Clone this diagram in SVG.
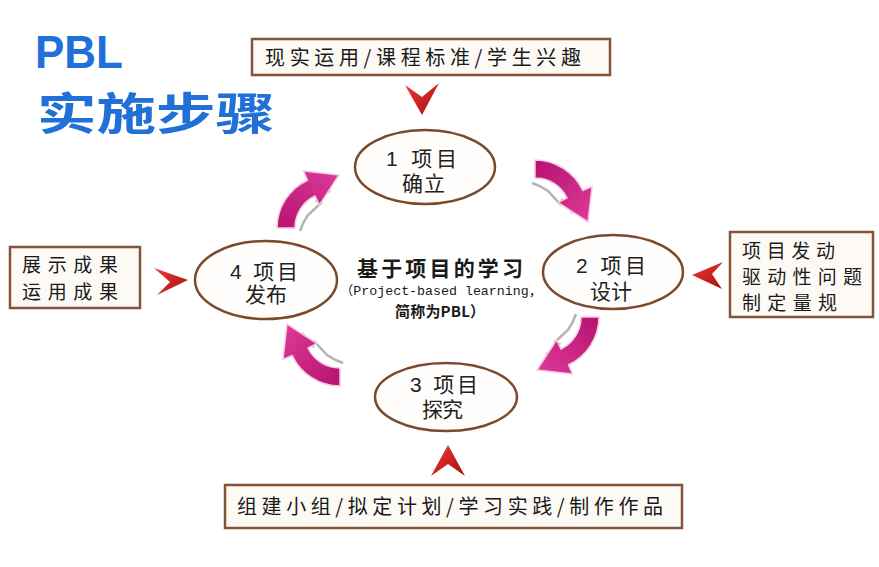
<svg xmlns="http://www.w3.org/2000/svg" width="879" height="567" viewBox="0 0 879 567">
<defs>
<style>
.box{fill:#fdfaf6;stroke:#83533a;stroke-width:2.5}
.ell{fill:#fffefd;stroke:#7a4a2c;stroke-width:2.5}
.bt{font-family:"Noto Sans CJK SC","Liberation Sans",sans-serif;font-size:20px;fill:#1a1a1a}
.bs{font-family:"Noto Sans CJK SC","Liberation Sans",sans-serif;font-size:19px;fill:#1a1a1a}
.et{font-family:"Liberation Sans","Noto Sans CJK SC",sans-serif;font-size:21px;fill:#222}
.chev{fill:url(#red)}
.arr{fill:url(#mag);stroke:#f6c8e4;stroke-width:1.5}
.sh{fill:none;stroke:#b4b4b4;stroke-width:2.5;stroke-linejoin:miter}
</style>
<linearGradient id="red" x1="0" y1="0" x2="1" y2="1">
<stop offset="0" stop-color="#f03a3a"/>
<stop offset="1" stop-color="#a80d0d"/>
</linearGradient>
<linearGradient id="mag" x1="0" y1="1" x2="1" y2="0">
<stop offset="0" stop-color="#b5136f"/>
<stop offset="1" stop-color="#de3a98"/>
</linearGradient>
<g id="carrow">
<path class="sh" d="M21,-10 L8,1 L12,3 L-1,15 Q-6,22 -9,31"/>
<path class="arr" d="M-32,28 A53 53 0 0 1 -1.5,-19.8 L-5.5,-29 L30,-25 L10.5,5 L6,-4 A35 35 0 0 0 -14,28 Z"/>
</g>
</defs>
<rect width="879" height="567" fill="#ffffff"/>

<g id="title">
<text x="35" y="68" font-family="Liberation Sans, Arial, sans-serif" font-weight="bold" font-size="46" fill="#2170d8" textLength="88" lengthAdjust="spacingAndGlyphs">PBL</text>
<text x="37" y="130" font-family="Noto Sans CJK SC, sans-serif" font-weight="bold" font-size="44" fill="#2170d8" textLength="238" lengthAdjust="spacingAndGlyphs">实施步骤</text>
</g>

<g id="connectors">
<polygon class="chev" points="405,85 422,97 439,83 422,115"/>
<polygon class="chev" points="448,445 465,476 448,464 431,476"/>
<polygon class="chev" points="154,268 188,280 157,295 170,282"/>
<polygon class="chev" points="692,275 723,262 712,274 722,289"/>
<use href="#carrow" transform="translate(309,200)"/>
<use href="#carrow" transform="translate(563,192) rotate(90)"/>
<use href="#carrow" transform="translate(567,345) rotate(180)"/>
<use href="#carrow" transform="translate(312,354) rotate(270)"/>
</g>

<g id="box-top">
<rect class="box" x="252" y="39" width="358" height="36"/>
<text class="bt" x="265" y="65" textLength="316" lengthAdjust="spacing">现实运用/课程标准/学生兴趣</text>
</g>

<g id="box-left">
<rect class="box" x="10" y="247" width="130" height="61"/>
<text class="bs" x="22" y="272" textLength="96" lengthAdjust="spacing">展示成果</text>
<text class="bs" x="22" y="299" textLength="96" lengthAdjust="spacing">运用成果</text>
</g>

<g id="box-right">
<rect class="box" x="730" y="232" width="143" height="85"/>
<text class="bs" x="742" y="258" textLength="93" lengthAdjust="spacing">项目发动</text>
<text class="bs" x="742" y="284" textLength="120" lengthAdjust="spacing">驱动性问题</text>
<text class="bs" x="742" y="310" textLength="95" lengthAdjust="spacing">制定量规</text>
</g>

<g id="box-bottom">
<rect class="box" x="225" y="485" width="457" height="43"/>
<text class="bt" x="237" y="514" textLength="426" lengthAdjust="spacing">组建小组/拟定计划/学习实践/制作作品</text>
</g>

<g id="node1">
<ellipse class="ell" cx="425" cy="167" rx="70" ry="37"/>
<text class="et" x="386" y="166" textLength="71" lengthAdjust="spacing">1 项目</text>
<text class="et" x="402" y="191" textLength="43" lengthAdjust="spacing">确立</text>
</g>

<g id="node2">
<ellipse class="ell" cx="613" cy="272" rx="70" ry="37"/>
<text class="et" x="576" y="273" textLength="70" lengthAdjust="spacing">2 项目</text>
<text class="et" x="590" y="299" textLength="42" lengthAdjust="spacing">设计</text>
</g>

<g id="node3">
<ellipse class="ell" cx="446" cy="397" rx="71" ry="34"/>
<text class="et" x="410" y="392" textLength="68" lengthAdjust="spacing">3 项目</text>
<text class="et" x="422" y="417" textLength="41" lengthAdjust="spacing">探究</text>
</g>

<g id="node4">
<ellipse class="ell" cx="266" cy="280" rx="71" ry="39"/>
<text class="et" x="230" y="279" textLength="68" lengthAdjust="spacing">4 项目</text>
<text class="et" x="245" y="302" textLength="42" lengthAdjust="spacing">发布</text>
</g>

<g id="center">
<text x="357" y="276" font-family="Noto Sans CJK SC, sans-serif" font-weight="bold" font-size="21" fill="#1a1a1a" textLength="166" lengthAdjust="spacing">基于项目的学习</text>
<text x="340" y="295" font-family="Liberation Mono, Noto Sans CJK SC, monospace" font-size="13" fill="#1a1a1a" textLength="202" lengthAdjust="spacingAndGlyphs">（Project-based learning，</text>
<text x="395" y="317" font-family="Noto Sans CJK SC, sans-serif" font-weight="bold" font-size="15" fill="#1a1a1a" textLength="90" lengthAdjust="spacing">简称为PBL）</text>
</g>
</svg>
